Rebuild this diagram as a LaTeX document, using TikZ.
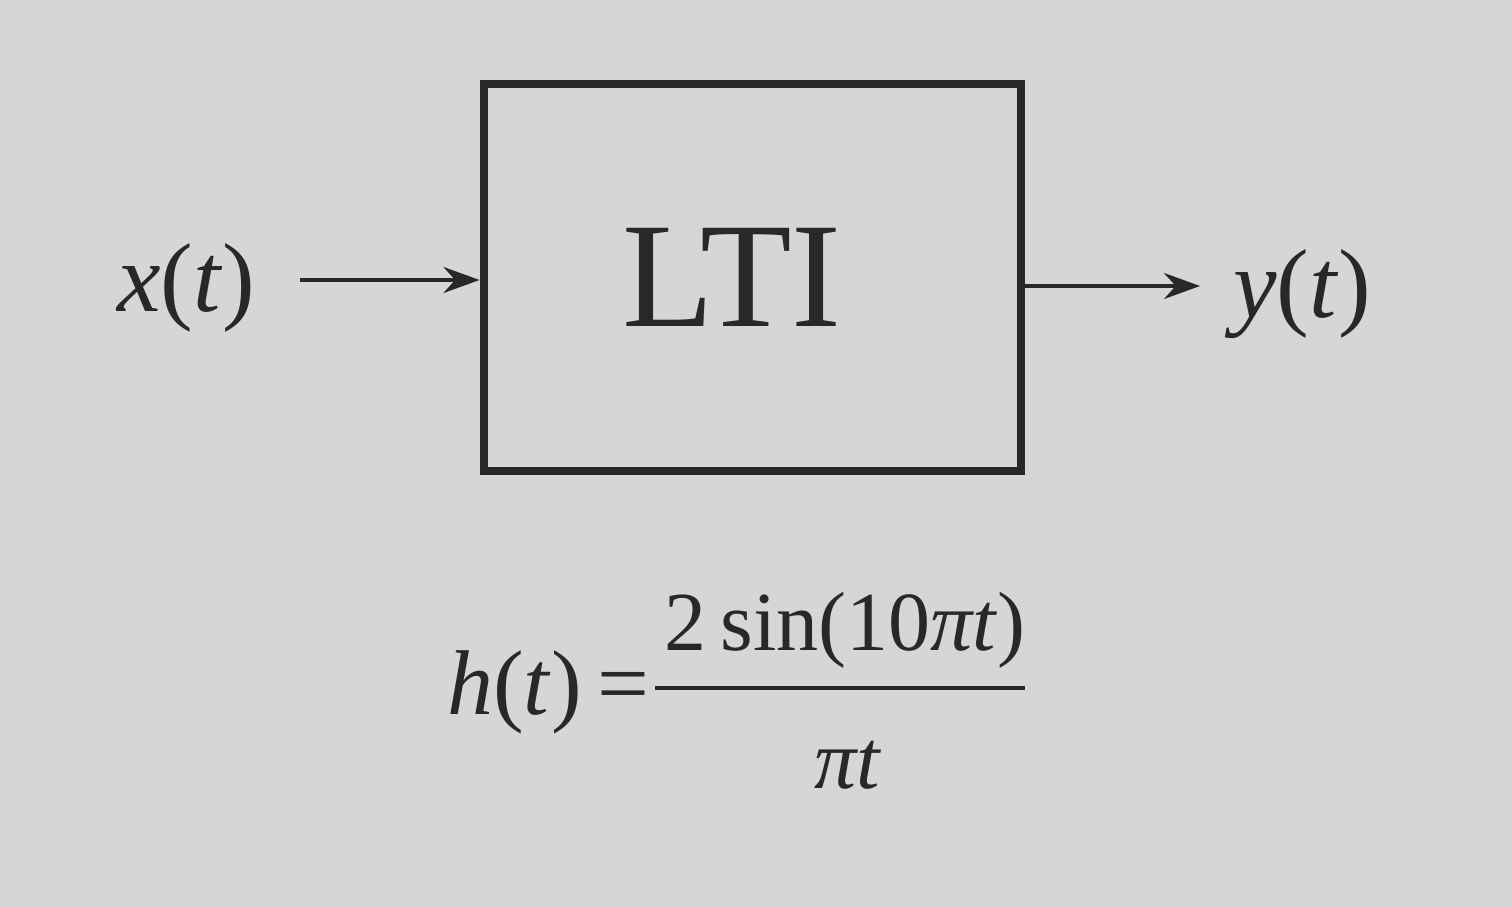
\documentclass[tikz,border=0pt]{standalone}
\usepackage{fontspec}
\setmainfont{Liberation Serif}
\usetikzlibrary{arrows.meta}
\definecolor{paper}{RGB}{214,214,212}
\definecolor{ink}{RGB}{40,40,40}
\tikzset{
  lbl/.style={text=ink, inner sep=0pt, font=\fontsize{98}{100}\selectfont},
  sig/.style={draw=ink, line width=3.5pt, -{Stealth[length=36pt,width=26pt]}},
  blockbox/.style={draw=ink, line width=8pt, minimum width=537pt, minimum height=387pt, inner sep=0pt, text=ink, font=\fontsize{150}{150}\selectfont}
}
\begin{document}
\begin{tikzpicture}[x=1pt,y=-1pt]
\fill[paper] (0,0) rectangle (1512,907);
\useasboundingbox (0,0) rectangle (1512,907);
\node[blockbox] (box) at (752,277) {\hspace*{-40pt}\raisebox{-12pt}{LTI}};
\node[lbl] (x) at (186,288) {\textit{x}(\textit{t})};
\node[lbl] (y) at (1302,294) {\textit{y}(\textit{t})};
\coordinate (xs) at (300,280);
\coordinate (ye) at (1200,286);
\draw[sig] (xs) -- (box.west |- xs);
\draw[sig] (box.east |- ye) -- (ye);
\node[lbl, font=\fontsize{92}{96}\selectfont] (h) at (548,692) {\textit{h}(\textit{t})\,=};
\node[lbl, font=\fontsize{84}{88}\selectfont] (num) at (845,630) {2\,sin(10\textit{πt})};
\node[lbl, font=\fontsize{84}{88}\selectfont] (den) at (848,765) {\textit{πt}};
\coordinate (b1) at (655,688);
\coordinate (b2) at (1025,688);
\draw[ink, line width=3.5pt] (b1) -- (b2);
\end{tikzpicture}
\end{document}
